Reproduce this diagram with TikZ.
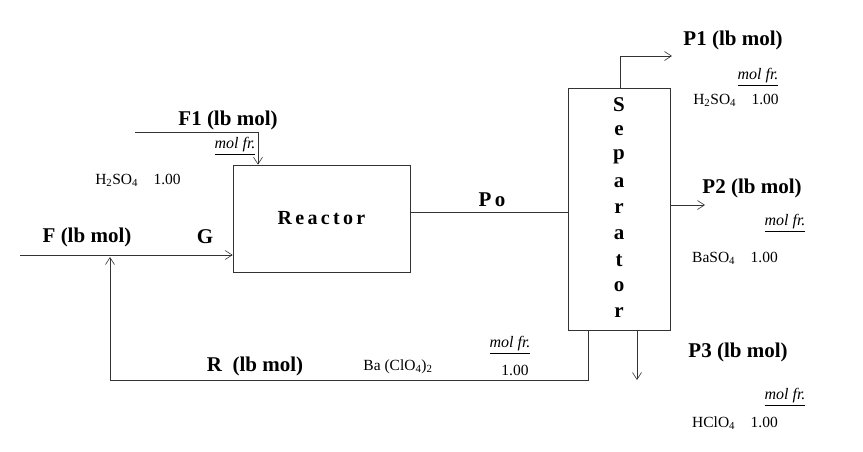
\documentclass[tikz,border=0pt]{standalone}
\usepackage{fontspec}
\setmainfont{Liberation Serif}
\usetikzlibrary{arrows.meta}
\begin{document}
\begin{tikzpicture}[x=1pt,y=-1pt,
  ln/.style={draw=black!80,line width=0.6pt},
  arr/.style={ln,-{Straight Barb[length=7pt,width=9pt]}},
  lab/.style={font=\fontsize{21}{24}\selectfont\bfseries,inner sep=0},
  mf/.style={font=\fontsize{16}{18}\selectfont\itshape,inner sep=0},
  val/.style={font=\fontsize{15.5}{18}\selectfont,inner sep=0}]
\useasboundingbox (0,0) rectangle (863,451);
\node[ln,minimum width=177pt,minimum height=107pt,font=\fontsize{20}{22}\selectfont\bfseries] (reactor) at (321.5,218.5) {R\,e\,a\,c\,t\,o\,r};
\node[ln,minimum width=102pt,minimum height=242pt] (sep) at (619,209) {};
\foreach \c [count=\i] in {S,e,p,a,r,a,t,o,r}
  \node[lab] at (619,79+26*\i) {\c};
\coordinate (fin) at (20,255);
\draw[arr] (fin) -- (reactor.west |- fin);
\node[lab] at (87,237) {F (lb mol)};
\node[lab] at (205,237) {G};
\coordinate (f1s) at (135,132);
\coordinate (f1c) at (258,132);
\draw[arr] (f1s) -- (f1c) -- (f1c |- reactor.north);
\node[lab] at (228,120) {F1 (lb mol)};
\node[mf] at (235,146) {\underline{mol fr.}};
\node[val] at (138,180) {H\textsubscript{2}SO\textsubscript{4}\quad 1.00};
\coordinate (po) at (410,212);
\draw[ln] (po) -- (sep.west |- po);
\node[lab] at (492,200) {P\,o};
\coordinate (p1a) at (620,56);
\coordinate (p1b) at (672,56);
\draw[arr] (sep.north -| p1a) -- (p1a) -- (p1b);
\node[lab] at (733,40) {P1 (lb mol)};
\node[mf] at (758,77) {\underline{mol fr.}};
\node[val] at (736,100) {H\textsubscript{2}SO\textsubscript{4}\quad 1.00};
\coordinate (p2) at (705,205);
\draw[arr] (sep.east |- p2) -- (p2);
\node[lab] at (752,188) {P2 (lb mol)};
\node[mf] at (785,223) {\underline{mol fr.}};
\node[val] at (735,258) {BaSO\textsubscript{4}\quad 1.00};
\coordinate (p3) at (637,380);
\draw[arr] (sep.south -| p3) -- (p3);
\node[lab] at (738,352) {P3 (lb mol)};
\node[mf] at (785,397) {\underline{mol fr.}};
\node[val] at (735,423) {HClO\textsubscript{4}\quad 1.00};
\coordinate (r1) at (588,380);
\coordinate (r2) at (110,380);
\coordinate (r3) at (110,257);
\draw[arr] (sep.south -| r1) -- (r1) -- (r2) -- (r3);
\node[lab] at (255,366) {R\ \ (lb mol)};
\node[val] at (398,367) {Ba (ClO\textsubscript{4})\textsubscript{2}};
\node[mf] at (510,345) {\underline{mol fr.}};
\node[val] at (515,370) {1.00};
\end{tikzpicture}
\end{document}
